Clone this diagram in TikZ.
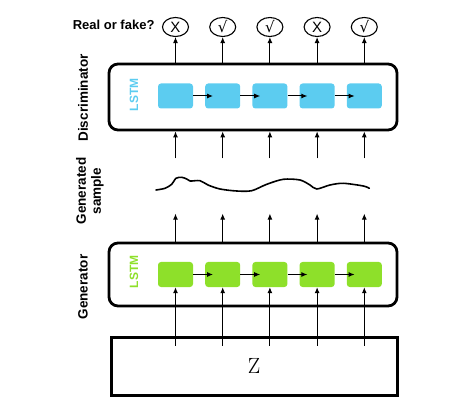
\documentclass[tikz,border=0pt]{standalone}
\usepackage{fontspec}
\setsansfont{Liberation Sans}
\newfontfamily\symfont{DejaVu Sans}
\usetikzlibrary{shapes.geometric, arrows.meta, positioning}
\usepackage{xcolor}

\definecolor{cellblue}{RGB}{92,204,240}
\definecolor{cellgreen}{RGB}{142,224,42}

\tikzset{
    flow/.style={-{Latex[length=6pt, width=5pt]}, line width=1pt},
    sidelabel/.style={rotate=90, align=center, font=\sffamily\bfseries\fontsize{13.5}{15}\selectfont}
}

\begin{document}
\begin{tikzpicture}[x=1pt, y=-1pt,
        outerbox/.style={draw, line width=2.8pt, rounded corners=9pt, minimum width=288pt, inner sep=0pt},
        cellbox/.style={rounded corners=3pt, minimum width=35pt, minimum height=25pt, inner sep=0pt},
        judge/.style={draw, ellipse, line width=1.1pt, minimum width=26pt, minimum height=19pt, inner sep=0pt, font=\sffamily\fontsize{15}{15}\selectfont},
        lstm/.style={rotate=90, font=\sffamily\bfseries\fontsize{12}{12}\selectfont}
    ]
        \useasboundingbox (0,0) rectangle (474,414);

        % Noise input
        \node[draw, line width=3pt, minimum width=286pt, minimum height=58pt, inner sep=0pt,
              font=\fontsize{22}{22}\selectfont] (noise) at (254,366) {Z};

        % Generator
        \node[outerbox, minimum height=63pt] (gen) at (253,274.5) {};
        \node[lstm, text=cellgreen] (genlstm) at (134,272) {LSTM};
        \node[cellbox, fill=cellgreen] (g1) at (175.5,274.5) {};
        \node[cellbox, fill=cellgreen] (g2) at (222.7,274.5) {};
        \node[cellbox, fill=cellgreen] (g3) at (269.9,274.5) {};
        \node[cellbox, fill=cellgreen] (g4) at (317.1,274.5) {};
        \node[cellbox, fill=cellgreen] (g5) at (364.3,274.5) {};

        % Discriminator
        \node[outerbox, minimum height=66pt] (disc) at (253,97) {};
        \node[lstm, text=cellblue] (disclstm) at (134,95) {LSTM};
        \node[cellbox, fill=cellblue] (d1) at (175.5,96) {};
        \node[cellbox, fill=cellblue] (d2) at (222.7,96) {};
        \node[cellbox, fill=cellblue] (d3) at (269.9,96) {};
        \node[cellbox, fill=cellblue] (d4) at (317.1,96) {};
        \node[cellbox, fill=cellblue] (d5) at (364.3,96) {};

        % Verdicts
        \node[font=\sffamily\bfseries\fontsize{13}{13}\selectfont, anchor=east] (question) at (158,25) {Real or fake?};
        \node[judge] (v1) at (175.5,27) {X};
        \node[judge] (v2) at (222.7,27) {\symfont √};
        \node[judge] (v3) at (269.9,27) {\symfont √};
        \node[judge] (v4) at (317.1,27) {X};
        \node[judge] (v5) at (364.3,27) {\symfont √};

        % Side labels
        \node[sidelabel] (disclabel) at (83,98) {Discriminator};
        \node[sidelabel] (samplelabel) at (90,191) {Generated\\sample};
        \node[sidelabel] (genlabel) at (83,287) {Generator};

        % Generated sample
        \draw[line width=1.6pt, line join=round, line cap=round] plot[smooth, tension=0.5] coordinates {
            (156,190) (165,188.3) (171.7,184.3) (176,178.3) (181.7,177.3) (186.7,179)
            (190,181) (200,180.7) (208,185) (220,189) (236.7,191) (251.7,190.7)
            (266.7,184.3) (283.3,179.3) (300,180) (310,185) (316.7,189) (330,185)
            (343.3,183.3) (363.3,186) (369.3,188.3)};

        % Connectors
        \foreach \i in {1,...,5} {
            \coordinate (zin\i) at ([yshift=-10pt]noise.north -| g\i);
            \coordinate (gout\i) at ([yshift=28pt]gen.north -| g\i);
            \coordinate (din\i) at ([yshift=-27pt]disc.south -| d\i);
            \draw[flow] (zin\i) -- (g\i.south);
            \draw[flow] (gen.north -| g\i) -- (gout\i);
            \draw[flow] (din\i) -- (disc.south -| d\i);
            \draw[flow] (disc.north -| d\i) -- (v\i.south);
        }
        \foreach \a/\b in {1/2,2/3,3/4,4/5} {
            \draw[flow, shorten >=-8pt] (g\a.east) -- (g\b.west);
            \draw[flow, shorten >=-8pt] (d\a.east) -- (d\b.west);
        }
    \end{tikzpicture}
\end{document}
